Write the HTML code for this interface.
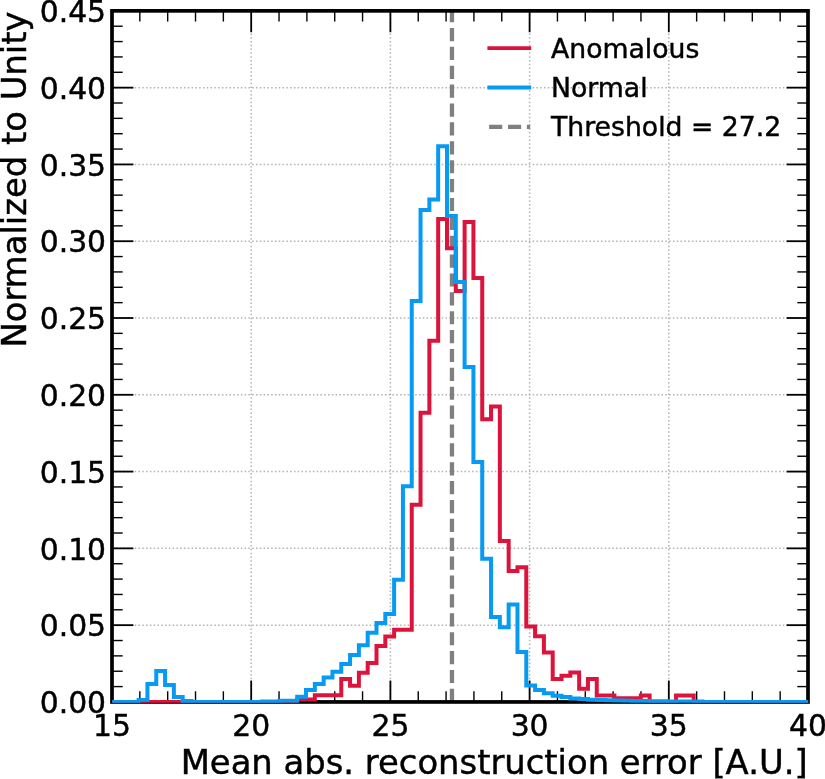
<!DOCTYPE html><html><head><meta charset="utf-8"><title>plot</title><style>html,body{margin:0;padding:0;background:#fff;}svg{display:block;}text{font-family:"DejaVu Sans","Liberation Sans",sans-serif;fill:#000;stroke:#000;stroke-width:0.45px;}</style></head><body>
<svg width="825" height="779" viewBox="0 0 825 779">
<rect width="825" height="779" fill="#fff"/>
<defs><clipPath id="ax"><rect x="112.00" y="10.85" width="696.70" height="691.85"/></clipPath></defs>
<g stroke="#b2b2b2" stroke-width="1.5" stroke-dasharray="1.5 2.29" fill="none"><line x1="251.20" y1="701.95" x2="251.20" y2="10.85"/><line x1="390.40" y1="701.95" x2="390.40" y2="10.85"/><line x1="529.60" y1="701.95" x2="529.60" y2="10.85"/><line x1="668.80" y1="701.95" x2="668.80" y2="10.85"/><line x1="112.00" y1="625.16" x2="808.00" y2="625.16"/><line x1="112.00" y1="548.37" x2="808.00" y2="548.37"/><line x1="112.00" y1="471.58" x2="808.00" y2="471.58"/><line x1="112.00" y1="394.79" x2="808.00" y2="394.79"/><line x1="112.00" y1="318.01" x2="808.00" y2="318.01"/><line x1="112.00" y1="241.22" x2="808.00" y2="241.22"/><line x1="112.00" y1="164.43" x2="808.00" y2="164.43"/><line x1="112.00" y1="87.64" x2="808.00" y2="87.64"/></g>
<line x1="451.95" y1="701.95" x2="451.95" y2="10.85" stroke="#808080" stroke-width="4.30" stroke-dasharray="13.18 5.70"/>
<g stroke="#000" stroke-width="1.8"><line x1="112.00" y1="701.95" x2="112.00" y2="680.55"/><line x1="112.00" y1="10.85" x2="112.00" y2="32.25"/><line x1="251.20" y1="701.95" x2="251.20" y2="680.55"/><line x1="251.20" y1="10.85" x2="251.20" y2="32.25"/><line x1="390.40" y1="701.95" x2="390.40" y2="680.55"/><line x1="390.40" y1="10.85" x2="390.40" y2="32.25"/><line x1="529.60" y1="701.95" x2="529.60" y2="680.55"/><line x1="529.60" y1="10.85" x2="529.60" y2="32.25"/><line x1="668.80" y1="701.95" x2="668.80" y2="680.55"/><line x1="668.80" y1="10.85" x2="668.80" y2="32.25"/><line x1="808.00" y1="701.95" x2="808.00" y2="680.55"/><line x1="808.00" y1="10.85" x2="808.00" y2="32.25"/><line x1="112.00" y1="701.95" x2="133.40" y2="701.95"/><line x1="808.00" y1="701.95" x2="786.60" y2="701.95"/><line x1="112.00" y1="625.16" x2="133.40" y2="625.16"/><line x1="808.00" y1="625.16" x2="786.60" y2="625.16"/><line x1="112.00" y1="548.37" x2="133.40" y2="548.37"/><line x1="808.00" y1="548.37" x2="786.60" y2="548.37"/><line x1="112.00" y1="471.58" x2="133.40" y2="471.58"/><line x1="808.00" y1="471.58" x2="786.60" y2="471.58"/><line x1="112.00" y1="394.79" x2="133.40" y2="394.79"/><line x1="808.00" y1="394.79" x2="786.60" y2="394.79"/><line x1="112.00" y1="318.01" x2="133.40" y2="318.01"/><line x1="808.00" y1="318.01" x2="786.60" y2="318.01"/><line x1="112.00" y1="241.22" x2="133.40" y2="241.22"/><line x1="808.00" y1="241.22" x2="786.60" y2="241.22"/><line x1="112.00" y1="164.43" x2="133.40" y2="164.43"/><line x1="808.00" y1="164.43" x2="786.60" y2="164.43"/><line x1="112.00" y1="87.64" x2="133.40" y2="87.64"/><line x1="808.00" y1="87.64" x2="786.60" y2="87.64"/><line x1="112.00" y1="10.85" x2="133.40" y2="10.85"/><line x1="808.00" y1="10.85" x2="786.60" y2="10.85"/></g>
<g stroke="#000" stroke-width="1.4"><line x1="139.84" y1="701.95" x2="139.84" y2="691.25"/><line x1="139.84" y1="10.85" x2="139.84" y2="21.55"/><line x1="167.68" y1="701.95" x2="167.68" y2="691.25"/><line x1="167.68" y1="10.85" x2="167.68" y2="21.55"/><line x1="195.52" y1="701.95" x2="195.52" y2="691.25"/><line x1="195.52" y1="10.85" x2="195.52" y2="21.55"/><line x1="223.36" y1="701.95" x2="223.36" y2="691.25"/><line x1="223.36" y1="10.85" x2="223.36" y2="21.55"/><line x1="279.04" y1="701.95" x2="279.04" y2="691.25"/><line x1="279.04" y1="10.85" x2="279.04" y2="21.55"/><line x1="306.88" y1="701.95" x2="306.88" y2="691.25"/><line x1="306.88" y1="10.85" x2="306.88" y2="21.55"/><line x1="334.72" y1="701.95" x2="334.72" y2="691.25"/><line x1="334.72" y1="10.85" x2="334.72" y2="21.55"/><line x1="362.56" y1="701.95" x2="362.56" y2="691.25"/><line x1="362.56" y1="10.85" x2="362.56" y2="21.55"/><line x1="418.24" y1="701.95" x2="418.24" y2="691.25"/><line x1="418.24" y1="10.85" x2="418.24" y2="21.55"/><line x1="446.08" y1="701.95" x2="446.08" y2="691.25"/><line x1="446.08" y1="10.85" x2="446.08" y2="21.55"/><line x1="473.92" y1="701.95" x2="473.92" y2="691.25"/><line x1="473.92" y1="10.85" x2="473.92" y2="21.55"/><line x1="501.76" y1="701.95" x2="501.76" y2="691.25"/><line x1="501.76" y1="10.85" x2="501.76" y2="21.55"/><line x1="557.44" y1="701.95" x2="557.44" y2="691.25"/><line x1="557.44" y1="10.85" x2="557.44" y2="21.55"/><line x1="585.28" y1="701.95" x2="585.28" y2="691.25"/><line x1="585.28" y1="10.85" x2="585.28" y2="21.55"/><line x1="613.12" y1="701.95" x2="613.12" y2="691.25"/><line x1="613.12" y1="10.85" x2="613.12" y2="21.55"/><line x1="640.96" y1="701.95" x2="640.96" y2="691.25"/><line x1="640.96" y1="10.85" x2="640.96" y2="21.55"/><line x1="696.64" y1="701.95" x2="696.64" y2="691.25"/><line x1="696.64" y1="10.85" x2="696.64" y2="21.55"/><line x1="724.48" y1="701.95" x2="724.48" y2="691.25"/><line x1="724.48" y1="10.85" x2="724.48" y2="21.55"/><line x1="752.32" y1="701.95" x2="752.32" y2="691.25"/><line x1="752.32" y1="10.85" x2="752.32" y2="21.55"/><line x1="780.16" y1="701.95" x2="780.16" y2="691.25"/><line x1="780.16" y1="10.85" x2="780.16" y2="21.55"/><line x1="112.00" y1="686.59" x2="122.70" y2="686.59"/><line x1="808.00" y1="686.59" x2="797.30" y2="686.59"/><line x1="112.00" y1="671.23" x2="122.70" y2="671.23"/><line x1="808.00" y1="671.23" x2="797.30" y2="671.23"/><line x1="112.00" y1="655.88" x2="122.70" y2="655.88"/><line x1="808.00" y1="655.88" x2="797.30" y2="655.88"/><line x1="112.00" y1="640.52" x2="122.70" y2="640.52"/><line x1="808.00" y1="640.52" x2="797.30" y2="640.52"/><line x1="112.00" y1="609.80" x2="122.70" y2="609.80"/><line x1="808.00" y1="609.80" x2="797.30" y2="609.80"/><line x1="112.00" y1="594.45" x2="122.70" y2="594.45"/><line x1="808.00" y1="594.45" x2="797.30" y2="594.45"/><line x1="112.00" y1="579.09" x2="122.70" y2="579.09"/><line x1="808.00" y1="579.09" x2="797.30" y2="579.09"/><line x1="112.00" y1="563.73" x2="122.70" y2="563.73"/><line x1="808.00" y1="563.73" x2="797.30" y2="563.73"/><line x1="112.00" y1="533.01" x2="122.70" y2="533.01"/><line x1="808.00" y1="533.01" x2="797.30" y2="533.01"/><line x1="112.00" y1="517.66" x2="122.70" y2="517.66"/><line x1="808.00" y1="517.66" x2="797.30" y2="517.66"/><line x1="112.00" y1="502.30" x2="122.70" y2="502.30"/><line x1="808.00" y1="502.30" x2="797.30" y2="502.30"/><line x1="112.00" y1="486.94" x2="122.70" y2="486.94"/><line x1="808.00" y1="486.94" x2="797.30" y2="486.94"/><line x1="112.00" y1="456.23" x2="122.70" y2="456.23"/><line x1="808.00" y1="456.23" x2="797.30" y2="456.23"/><line x1="112.00" y1="440.87" x2="122.70" y2="440.87"/><line x1="808.00" y1="440.87" x2="797.30" y2="440.87"/><line x1="112.00" y1="425.51" x2="122.70" y2="425.51"/><line x1="808.00" y1="425.51" x2="797.30" y2="425.51"/><line x1="112.00" y1="410.15" x2="122.70" y2="410.15"/><line x1="808.00" y1="410.15" x2="797.30" y2="410.15"/><line x1="112.00" y1="379.44" x2="122.70" y2="379.44"/><line x1="808.00" y1="379.44" x2="797.30" y2="379.44"/><line x1="112.00" y1="364.08" x2="122.70" y2="364.08"/><line x1="808.00" y1="364.08" x2="797.30" y2="364.08"/><line x1="112.00" y1="348.72" x2="122.70" y2="348.72"/><line x1="808.00" y1="348.72" x2="797.30" y2="348.72"/><line x1="112.00" y1="333.36" x2="122.70" y2="333.36"/><line x1="808.00" y1="333.36" x2="797.30" y2="333.36"/><line x1="112.00" y1="302.65" x2="122.70" y2="302.65"/><line x1="808.00" y1="302.65" x2="797.30" y2="302.65"/><line x1="112.00" y1="287.29" x2="122.70" y2="287.29"/><line x1="808.00" y1="287.29" x2="797.30" y2="287.29"/><line x1="112.00" y1="271.93" x2="122.70" y2="271.93"/><line x1="808.00" y1="271.93" x2="797.30" y2="271.93"/><line x1="112.00" y1="256.57" x2="122.70" y2="256.57"/><line x1="808.00" y1="256.57" x2="797.30" y2="256.57"/><line x1="112.00" y1="225.86" x2="122.70" y2="225.86"/><line x1="808.00" y1="225.86" x2="797.30" y2="225.86"/><line x1="112.00" y1="210.50" x2="122.70" y2="210.50"/><line x1="808.00" y1="210.50" x2="797.30" y2="210.50"/><line x1="112.00" y1="195.14" x2="122.70" y2="195.14"/><line x1="808.00" y1="195.14" x2="797.30" y2="195.14"/><line x1="112.00" y1="179.79" x2="122.70" y2="179.79"/><line x1="808.00" y1="179.79" x2="797.30" y2="179.79"/><line x1="112.00" y1="149.07" x2="122.70" y2="149.07"/><line x1="808.00" y1="149.07" x2="797.30" y2="149.07"/><line x1="112.00" y1="133.71" x2="122.70" y2="133.71"/><line x1="808.00" y1="133.71" x2="797.30" y2="133.71"/><line x1="112.00" y1="118.35" x2="122.70" y2="118.35"/><line x1="808.00" y1="118.35" x2="797.30" y2="118.35"/><line x1="112.00" y1="103.00" x2="122.70" y2="103.00"/><line x1="808.00" y1="103.00" x2="797.30" y2="103.00"/><line x1="112.00" y1="72.28" x2="122.70" y2="72.28"/><line x1="808.00" y1="72.28" x2="797.30" y2="72.28"/><line x1="112.00" y1="56.92" x2="122.70" y2="56.92"/><line x1="808.00" y1="56.92" x2="797.30" y2="56.92"/><line x1="112.00" y1="41.57" x2="122.70" y2="41.57"/><line x1="808.00" y1="41.57" x2="797.30" y2="41.57"/><line x1="112.00" y1="26.21" x2="122.70" y2="26.21"/><line x1="808.00" y1="26.21" x2="797.30" y2="26.21"/></g>
<rect x="112.00" y="10.85" width="696.00" height="691.10" fill="none" stroke="#000" stroke-width="3.70"/>
<g clip-path="url(#ax)">
<path d="M112.20 701.95 L121.01 701.95 L121.01 701.95 L129.82 701.95 L129.82 701.95 L138.63 701.95 L138.63 701.95 L147.44 701.95 L147.44 701.95 L156.25 701.95 L156.25 701.95 L165.06 701.95 L165.06 701.95 L173.87 701.95 L173.87 701.95 L182.68 701.95 L182.68 701.95 L191.49 701.95 L191.49 701.95 L200.30 701.95 L200.30 701.95 L209.11 701.95 L209.11 701.95 L217.92 701.95 L217.92 701.95 L226.73 701.95 L226.73 701.95 L235.54 701.95 L235.54 701.95 L244.35 701.95 L244.35 701.95 L253.16 701.95 L253.16 701.95 L261.97 701.95 L261.97 701.95 L270.78 701.95 L270.78 701.95 L279.59 701.95 L279.59 701.95 L288.40 701.95 L288.40 701.95 L297.21 701.95 L297.21 699.40 L306.02 699.40 L306.02 699.40 L314.83 699.40 L314.83 695.30 L323.64 695.30 L323.64 695.30 L332.45 695.30 L332.45 695.30 L341.26 695.30 L341.26 679.00 L350.07 679.00 L350.07 685.80 L358.88 685.80 L358.88 672.70 L367.69 672.70 L367.69 663.00 L376.50 663.00 L376.50 646.00 L385.31 646.00 L385.31 636.50 L394.12 636.50 L394.12 629.80 L402.93 629.80 L402.93 629.80 L411.74 629.80 L411.74 504.70 L420.55 504.70 L420.55 412.80 L429.36 412.80 L429.36 340.70 L438.17 340.70 L438.17 219.00 L446.98 219.00 L446.98 248.30 L455.79 248.30 L455.79 291.10 L464.61 291.10 L464.61 222.10 L473.42 222.10 L473.42 278.00 L482.23 278.00 L482.23 419.30 L491.04 419.30 L491.04 406.40 L499.85 406.40 L499.85 540.90 L508.66 540.90 L508.66 570.90 L517.47 570.90 L517.47 567.30 L526.28 567.30 L526.28 626.40 L535.09 626.40 L535.09 636.20 L543.90 636.20 L543.90 652.60 L552.71 652.60 L552.71 679.10 L561.52 679.10 L561.52 675.70 L570.33 675.70 L570.33 672.40 L579.14 672.40 L579.14 688.80 L587.95 688.80 L587.95 679.10 L596.76 679.10 L596.76 695.50 L605.57 695.50 L605.57 695.50 L614.38 695.50 L614.38 698.30 L623.19 698.30 L623.19 698.30 L632.00 698.30 L632.00 698.30 L640.81 698.30 L640.81 695.50 L649.62 695.50 L649.62 701.95 L658.43 701.95 L658.43 701.95 L667.24 701.95 L667.24 701.95 L676.05 701.95 L676.05 695.50 L684.86 695.50 L684.86 695.50 L693.67 695.50 L693.67 701.95 L702.48 701.95 L702.48 701.95 L711.29 701.95 L711.29 701.95 L720.10 701.95 L720.10 701.95 L728.91 701.95 L728.91 701.95 L737.72 701.95 L737.72 701.95 L746.53 701.95 L746.53 701.95 L755.34 701.95 L755.34 701.95 L764.15 701.95 L764.15 701.95 L772.96 701.95 L772.96 701.95 L781.77 701.95 L781.77 701.95 L790.58 701.95 L790.58 701.95 L799.39 701.95 L799.39 701.95 L808.20 701.95" fill="none" stroke="#dc143c" stroke-width="4.00" stroke-linejoin="miter"/>
<path d="M112.20 701.95 L121.01 701.95 L121.01 701.95 L129.82 701.95 L129.82 701.95 L138.63 701.95 L138.63 699.90 L147.44 699.90 L147.44 683.90 L156.25 683.90 L156.25 671.00 L165.06 671.00 L165.06 685.00 L173.87 685.00 L173.87 697.00 L182.68 697.00 L182.68 701.00 L191.49 701.00 L191.49 701.95 L200.30 701.95 L200.30 701.95 L209.11 701.95 L209.11 701.95 L217.92 701.95 L217.92 701.95 L226.73 701.95 L226.73 701.95 L235.54 701.95 L235.54 701.95 L244.35 701.95 L244.35 701.95 L253.16 701.95 L253.16 701.95 L261.97 701.95 L261.97 701.40 L270.78 701.40 L270.78 701.40 L279.59 701.40 L279.59 700.80 L288.40 700.80 L288.40 700.80 L297.21 700.80 L297.21 696.80 L306.02 696.80 L306.02 689.90 L314.83 689.90 L314.83 684.00 L323.64 684.00 L323.64 677.40 L332.45 677.40 L332.45 671.70 L341.26 671.70 L341.26 664.00 L350.07 664.00 L350.07 655.10 L358.88 655.10 L358.88 645.20 L367.69 645.20 L367.69 632.80 L376.50 632.80 L376.50 623.10 L385.31 623.10 L385.31 613.90 L394.12 613.90 L394.12 579.80 L402.93 579.80 L402.93 486.30 L411.74 486.30 L411.74 300.90 L420.55 300.90 L420.55 210.10 L429.36 210.10 L429.36 199.40 L438.17 199.40 L438.17 146.30 L446.98 146.30 L446.98 215.90 L455.79 215.90 L455.79 282.00 L464.61 282.00 L464.61 366.90 L473.42 366.90 L473.42 462.10 L482.23 462.10 L482.23 558.80 L491.04 558.80 L491.04 617.00 L499.85 617.00 L499.85 627.20 L508.66 627.20 L508.66 604.60 L517.47 604.60 L517.47 651.90 L526.28 651.90 L526.28 685.40 L535.09 685.40 L535.09 689.90 L543.90 689.90 L543.90 693.20 L552.71 693.20 L552.71 695.70 L561.52 695.70 L561.52 697.00 L570.33 697.00 L570.33 698.50 L579.14 698.50 L579.14 699.10 L587.95 699.10 L587.95 699.70 L596.76 699.70 L596.76 700.00 L605.57 700.00 L605.57 700.30 L614.38 700.30 L614.38 700.60 L623.19 700.60 L623.19 700.80 L632.00 700.80 L632.00 701.00 L640.81 701.00 L640.81 701.00 L649.62 701.00 L649.62 701.20 L658.43 701.20 L658.43 701.20 L667.24 701.20 L667.24 701.40 L676.05 701.40 L676.05 701.40 L684.86 701.40 L684.86 701.60 L693.67 701.60 L693.67 701.60 L702.48 701.60 L702.48 701.95 L711.29 701.95 L711.29 701.95 L720.10 701.95 L720.10 701.95 L728.91 701.95 L728.91 701.95 L737.72 701.95 L737.72 701.95 L746.53 701.95 L746.53 701.95 L755.34 701.95 L755.34 701.95 L764.15 701.95 L764.15 701.95 L772.96 701.95 L772.96 701.95 L781.77 701.95 L781.77 701.95 L790.58 701.95 L790.58 701.95 L799.39 701.95 L799.39 701.95 L808.20 701.95" fill="none" stroke="#069af3" stroke-width="4.00" stroke-linejoin="miter"/>
</g>
<line x1="487.4" y1="48.2" x2="531.2" y2="48.2" stroke="#dc143c" stroke-width="3.80"/>
<line x1="487.4" y1="87.5" x2="531.2" y2="87.5" stroke="#069af3" stroke-width="3.80"/>
<line x1="489.1" y1="126.8" x2="530.2" y2="126.8" stroke="#808080" stroke-width="4.30" stroke-dasharray="13.18 5.70"/>
<text x="551" y="57.80" font-size="26.70">Anomalous</text>
<text x="551" y="96.80" font-size="26.70">Normal</text>
<text x="551" y="135.80" font-size="26.70">Threshold = 27.2</text>
<text x="112.00" y="736.1" font-size="29.80" text-anchor="middle">15</text>
<text x="251.20" y="736.1" font-size="29.80" text-anchor="middle">20</text>
<text x="390.40" y="736.1" font-size="29.80" text-anchor="middle">25</text>
<text x="529.60" y="736.1" font-size="29.80" text-anchor="middle">30</text>
<text x="668.80" y="736.1" font-size="29.80" text-anchor="middle">35</text>
<text x="808.00" y="736.1" font-size="29.80" text-anchor="middle">40</text>
<text x="106.1" y="713.15" font-size="29.80" text-anchor="end">0.00</text>
<text x="106.1" y="636.36" font-size="29.80" text-anchor="end">0.05</text>
<text x="106.1" y="559.57" font-size="29.80" text-anchor="end">0.10</text>
<text x="106.1" y="482.78" font-size="29.80" text-anchor="end">0.15</text>
<text x="106.1" y="405.99" font-size="29.80" text-anchor="end">0.20</text>
<text x="106.1" y="329.21" font-size="29.80" text-anchor="end">0.25</text>
<text x="106.1" y="252.42" font-size="29.80" text-anchor="end">0.30</text>
<text x="106.1" y="175.63" font-size="29.80" text-anchor="end">0.35</text>
<text x="106.1" y="98.84" font-size="29.80" text-anchor="end">0.40</text>
<text x="106.1" y="22.05" font-size="29.80" text-anchor="end">0.45</text>
<text x="807.6" y="774.4" font-size="33.82" text-anchor="end">Mean abs. reconstruction error [A.U.]</text>
<text transform="translate(25.5,11.5) rotate(-90)" font-size="33.82" text-anchor="end">Normalized to Unity</text>
</svg></body></html>
